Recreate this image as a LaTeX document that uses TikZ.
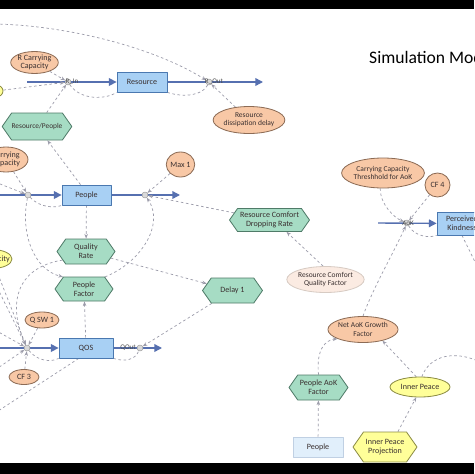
\documentclass[tikz,border=0pt]{standalone}
\usepackage{fontspec}
\setmainfont{Carlito}
\usetikzlibrary{shapes.symbols,shapes.geometric,arrows.meta}
\definecolor{stockfill}{HTML}{A8D0F4}
\definecolor{stockline}{HTML}{4A78B0}
\definecolor{convfill}{HTML}{A6DCC4}
\definecolor{convline}{HTML}{4F7B68}
\definecolor{auxfill}{HTML}{F8C8A6}
\definecolor{auxline}{HTML}{8C6B55}
\definecolor{yelfill}{HTML}{FFFF99}
\definecolor{yelline}{HTML}{8C8C44}
\definecolor{flowline}{HTML}{5670B0}
\definecolor{linkline}{HTML}{9C9CAA}
\definecolor{paleaux}{HTML}{FBEBE2}
\definecolor{inktext}{HTML}{3A3030}
\pgfdeclarelayer{background}
\pgfsetlayers{background,main}

\begin{document}
\begin{tikzpicture}[x=0.03cm,y=-0.03cm,line cap=round,line join=round,
	font=\fontsize{6.9}{7.4}\selectfont,text=inktext,
	stock/.style={draw=stockline,fill=stockfill,line width=0.7pt,inner sep=0,align=center},
	conv/.style={signal,signal to=east and west,signal pointer angle=110,draw=convline,fill=convfill,line width=0.7pt,inner sep=0,align=center},
	aux/.style={ellipse,draw=auxline,fill=auxfill,line width=0.7pt,inner sep=0,align=center},
	yel/.style={ellipse,draw=yelline,fill=yelfill,line width=0.7pt,inner sep=0,align=center},
	valve/.style={circle,draw=gray!80,fill=gray!30,minimum size=0.18cm,inner sep=0},
	vlabel/.style={text=gray!60!black,font=\fontsize{6}{6.5}\selectfont,inner sep=0},
	flow/.style={draw=flowline,line width=1.2pt,-{Triangle[length=6.5pt,width=6.5pt]}},
	link/.style={draw=linkline,line width=0.6pt,dash pattern=on 2.2pt off 2.2pt,-{Stealth[length=4pt,width=3pt]}},
	plain/.style={draw=linkline,line width=0.6pt,dash pattern=on 2.2pt off 2.2pt},
	sz/.style 2 args={minimum width=#1*0.03cm,minimum height=#2*0.03cm}]
	\useasboundingbox (0,0) rectangle (474,474);
	\clip (0,0) rectangle (474,474);

	% stocks
	\node[stock,sz={50}{20}] (resource) at (142,82) {Resource};
	\node[stock,sz={49}{20}] (people) at (86.5,195) {People};
	\node[stock,sz={54}{20}] (qos) at (86,348) {QOS};
	\node[stock,sz={50}{23}] (pk) at (462,223.5) {Perceived\\Kindness};
	\node[stock,draw=stockline!35,fill=stockfill!35,sz={50}{20}] (pghost) at (318,447) {People};

	% converters
	\node[conv,sz={58}{27},font=\fontsize{6.3}{7}\selectfont] (resppl) at (37,126.5) {Resource/People};
	\node[conv,sz={58}{25}] (qrate) at (86,251.5) {Quality\\Rate};
	\node[conv,sz={58}{24}] (pfactor) at (84,289) {People\\Factor};
	\node[conv,sz={60}{25}] (delay) at (232.5,290.5) {Delay 1};
	\node[conv,sz={80}{23}] (rcdr) at (269.5,220) {Resource Comfort\\Dropping Rate};
	\node[conv,sz={59}{25}] (paf) at (318.5,387.5) {People AoK\\Factor};
	\node[conv,draw=yelline,fill=yelfill,sz={64}{30}] (ipp) at (385,447) {Inner Peace\\Projection};

	% auxiliaries
	\node[aux,sz={45}{19}] (rcc) at (34.5,62.5) {R Carrying\\Capacity};
	\node[aux,sz={44}{25}] (cc) at (6,159.5) {Carrying\\Capacity};
	\node[aux,sz={27}{25}] (max) at (180.5,164.5) {Max 1};
	\node[aux,sz={30}{16}] (qsw) at (42,320) {Q SW 1};
	\node[aux,sz={30}{15}] (cf3) at (24,377) {CF 3};
	\node[aux,sz={60}{27},font=\fontsize{6.4}{7}\selectfont] (rdd) at (249,120) {Resource\\dissipation delay};
	\node[aux,sz={70}{30},font=\fontsize{6.4}{7}\selectfont] (cct) at (383,173) {Carrying Capacity\\Threshhold for AoK};
	\node[aux,sz={25}{24}] (cf4) at (437.5,185) {CF 4};
	\node[aux,sz={60}{26},font=\fontsize{6.4}{7}\selectfont] (netaok) at (363,329.5) {Net AoK Growth\\Factor};
	\node[aux,draw=auxline!35,fill=paleaux,sz={65}{26},font=\fontsize{6.4}{7}\selectfont] (rcqf) at (325.5,279.5) {Resource Comfort\\Quality Factor};
	\node[yel,sz={60}{20}] (ip) at (420,387) {Inner Peace};
	\node[yel,sz={14}{12}] (yel1) at (-4,91) {};
	\node[yel,sz={40}{19}] (yel2) at (-8,259) {};
	\node[anchor=east,inner sep=0] (yel2txt) at (10,259) {Capacity};

	% valves
	\node[valve] (rin) at (68,82) {};
	\node[valve] (rout) at (209,82) {};
	\node[valve] (pin) at (28,195) {};
	\node[valve] (pout) at (145,195) {};
	\node[valve] (qin) at (27,348) {};
	\node[valve] (qout) at (140,348) {};
	\node[valve] (aok) at (407,223) {};
	\node[vlabel] (rinl) at (72,82) {R\_In};
	\node[vlabel] (routl) at (214,82) {R\_Out};
	\node[vlabel] (qoutl) at (128,348) {QOut};
	\node[vlabel] (aokl) at (408,223) {AoK};

	\node[anchor=west,inner sep=0,text=black,font=\fontsize{15}{18}\selectfont] (title) at (369,57) {Simulation Model};

	% clouds and free ends
	\coordinate (rsrc) at (27,82);
	\coordinate (rsnk) at (263,82);
	\coordinate (psrc) at (-5,195);
	\coordinate (psnk) at (180,195);
	\coordinate (qsrc) at (-5,348);
	\coordinate (qsnk) at (162,348);
	\coordinate (aoksrc) at (378,223);
	\coordinate (topsrc) at (-5,24);
	\coordinate (lsrc0) at (-5,182);
	\coordinate (lsrc1) at (-5,283);
	\coordinate (lsrc2) at (-5,330);
	\coordinate (lsrc3) at (-5,370);
	\coordinate (lsnk) at (-5,413);
	\coordinate (pkout) at (478,268);
	\coordinate (ipout) at (480,362);

	\begin{pgfonlayer}{background}
	\fill[white] (0,0) rectangle (474,474);
	% flows
	\draw[flow] (rsrc) -- (resource);
	\draw[flow] (resource) -- (rsnk);
	\draw[flow] (psrc) -- (people);
	\draw[flow] (people) -- (psnk);
	\draw[flow] (qsrc) -- (qos);
	\draw[flow] (qos) -- (qsnk);
	\draw[flow] (aoksrc) -- (pk);
	% connectors
	\draw[link] (topsrc) .. controls (60,25) and (150,45) .. (rout);
	\draw[link] (rcc) -- (rin);
	\draw[link] (yel1) -- (rin);
	\draw[plain] (rin) .. controls (80,100) and (105,100) .. (resource.south west);
	\draw[plain] (resource.south east) .. controls (185,98) and (203,95) .. (rout);
	\draw[link] (rdd) -- (rout);
	\draw[link] (resppl) -- (rin);
	\draw[link] (people.120) -- (resppl);
	\draw[link] (cc) -- (pin);
	\draw[link] (lsrc0) -- (pin);
	\draw[plain] (pin) .. controls (40,208) and (55,208) .. (people.south west);
	\draw[link] (max) -- (pout);
	\draw[link] (rcdr) -- (pout);
	\draw[link] (pfactor.30) .. controls (140,263) and (165,225) .. (pout);
	\draw[link] (pin) .. controls (20,235) and (35,270) .. (pfactor.150);
	\draw[link] (people) -- (qrate);
	\draw[link] (qrate.200) .. controls (15,268) and (8,305) .. (qin);
	\draw[link] (yel2) -- (qin);
	\draw[link] (lsrc1) -- (qin);
	\draw[link] (lsrc2) -- (qin);
	\draw[link] (lsrc3) -- (qin);
	\draw[link] (qsw) -- (qin);
	\draw[link] (cf3) -- (qin);
	\draw[plain] (qin) .. controls (38,362) and (52,362) .. (qos.south west);
	\draw[plain] (qos.235) -- (lsnk);
	\draw[plain] (qos.south east) .. controls (125,362) and (135,360) .. (qout);
	\draw[link] (delay) -- (qout);
	\draw[link] (qrate) -- (delay);
	\draw[link] (qos) -- (pfactor);
	\draw[link] (rcqf.100) -- (rcdr.-35);
	\draw[link] (cct.260) .. controls (380,205) and (395,218) .. (aok);
	\draw[link] (cf4) -- (aok);
	\draw[plain] (aok) .. controls (415,237) and (430,238) .. (pk.south west);
	\draw[plain] (pk.south) -- (pkout);
	\draw[link] (netaok.north) .. controls (372,290) and (395,250) .. (aok);
	\draw[link] (pghost) -- (paf);
	\draw[link] (paf.north) .. controls (316,350) and (325,340) .. (netaok.200);
	\draw[link] (ip.110) -- (netaok.-30);
	\draw[link] (ipp.50) -- (ip.250);
	\draw[plain] (ip.80) .. controls (430,355) and (455,350) .. (ipout);
	\end{pgfonlayer}

	% frame bars
	\fill[black] (0,0) rectangle (474,9);
	\fill[black] (0,463) rectangle (474,474);
\end{tikzpicture}
\end{document}
